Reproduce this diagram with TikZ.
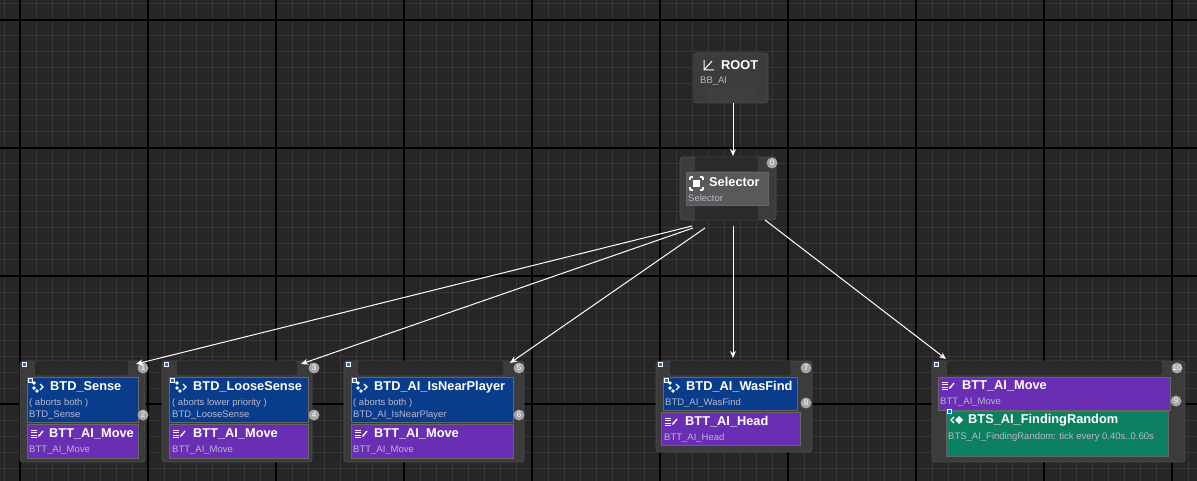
\documentclass[tikz,border=0pt]{standalone}
\usepackage{fontspec}
\setmainfont{Liberation Sans}
\usetikzlibrary{arrows.meta,calc}
\definecolor{bg}{HTML}{262626}
\definecolor{minor}{HTML}{363636}
\definecolor{outer}{HTML}{3C3C3C}
\definecolor{bar}{HTML}{2A2A2A}
\definecolor{dec}{HTML}{0A3C8C}
\definecolor{task}{HTML}{6A2EB4}
\definecolor{serv}{HTML}{0E8062}
\definecolor{sub}{HTML}{B8B8C8}
\begin{document}
\begin{tikzpicture}[x=1pt,y=-1pt,
  outerbox/.style={fill=outer,draw=black!70,line width=0.8pt,rounded corners=3pt},
  topbar/.style={fill=bar,rounded corners=2pt},
  decbox/.style={fill=dec,draw=black!60,line width=0.6pt},
  taskbox/.style={fill=task,draw=black!60,line width=0.6pt},
  servbox/.style={fill=serv,draw=black!60,line width=0.6pt},
  ttl/.style={anchor=west,text=white,font=\bfseries\fontsize{12.8}{13}\selectfont,inner sep=0pt},
  sbt/.style={anchor=west,text=sub,font=\fontsize{9.5}{10}\selectfont,inner sep=0pt},
  badge/.style={circle,fill=gray!70,text=white,inner sep=0pt,minimum size=11pt,font=\fontsize{8}{8}\selectfont},
  blue sq/.style={fill=blue!55!cyan,draw=white!70,line width=0.3pt},
  conn/.style={draw=white,line width=1pt,-{Stealth[length=7pt,width=6pt]}}]
\useasboundingbox (0,0) rectangle (1197,481);
\fill[bg] (0,0) rectangle (1197,481);
\foreach \x in {4,20,...,1197} \draw[minor,line width=1pt] (\x,0) -- (\x,481);
\foreach \y in {4,20,...,481} \draw[minor,line width=1pt] (0,\y) -- (1197,\y);
\foreach \x in {20,148,...,1197} \draw[black,line width=1.6pt] (\x,0) -- (\x,481);
\foreach \y in {20,148,276,404} \draw[black,line width=1.6pt] (0,\y) -- (1197,\y);
\newcommand{\decicon}[2]{\fill[white] (#1+3,#2-4) circle (1.8pt) (#1+3,#2+1) circle (1.8pt) (#1+6,#2+4) circle (1.8pt); \draw[white,line width=1.3pt] (#1+9,#2-3) -- (#1+12,#2) -- (#1+9,#2+3);}
\newcommand{\taskicon}[2]{\foreach \k in {-4,-1.5,1,3.5} \draw[white,line width=1pt] (#1,#2+\k) -- (#1+6,#2+\k); \draw[white,line width=1.3pt,-{Stealth[length=3pt]}] (#1+12,#2-3) -- (#1+7,#2+3);}
% ROOT
\draw[outerbox] (694,53) rectangle (768,103);
\fill[bar!90!white,rounded corners=2pt] (706,88) rectangle (754,102);
\node[ttl] (rootT) at (721,65) {ROOT};
\draw[white,line width=1pt] (704,60) -- (704,70) -- (714,70) (704,70) -- (712,61);
\node[sbt] (rootS) at (700,81) {BB\_AI};
\coordinate (rootB) at (733,103);
% Selector
\draw[outerbox] (680,157) rectangle (776,220);
\fill[topbar] (695,157) rectangle (758,171);
\fill[topbar] (695,206) rectangle (758,220);
\draw[fill=outer!85,draw=black!60] (686,172) rectangle (768,205);
\draw[white,line width=1.2pt] (690,177) -- (690,180) (690,177) -- (693,177) (703,177) -- (700,177) (703,177) -- (703,180) (690,190) -- (690,187) (690,190) -- (693,190) (703,190) -- (700,190) (703,190) -- (703,187);
\fill[white] (693,180) rectangle (700,187);
\node[ttl] (selT) at (709,182) {Selector};
\node[sbt] (selS) at (688,198) {Selector};
\node[badge] (b0) at (772,163) {0};
\coordinate (selTop) at (733,156);
\draw[conn] (rootB) -- (selTop);
% Node 1
\draw[outerbox] (20,361) rectangle (145,462);
\fill[topbar] (35,361) rectangle (128,375);
\draw[blue sq] (22,362) rectangle (26,366);
\draw[decbox] (27,377) rectangle (138,422);
\draw[blue sq] (28,378) rectangle (32,382);
\decicon{31}{387}
\node[ttl] (d1) at (50,387) {BTD\_Sense};
\node[sbt] (d1a) at (29,403) {( aborts both )};
\node[sbt] (d1b) at (29,415) {BTD\_Sense};
\draw[taskbox] (27,424) rectangle (138,458);
\taskicon{31}{434}
\node[ttl] (t1) at (49,434) {BTT\_AI\_Move};
\node[sbt] (t1b) at (29,450) {BTT\_AI\_Move};
\node[badge] (b1) at (143,368) {1};
\node[badge] (b2) at (143,415) {2};
\coordinate (n1) at (136,364);
% Node 2
\draw[outerbox] (162,361) rectangle (312,462);
\fill[topbar] (177,361) rectangle (297,375);
\draw[blue sq] (164,362) rectangle (168,366);
\draw[decbox] (169,377) rectangle (308,422);
\draw[blue sq] (170,378) rectangle (174,382);
\decicon{174}{387}
\node[ttl] (d2) at (193,387) {BTD\_LooseSense};
\node[sbt] (d2a) at (172,403) {( aborts lower priority )};
\node[sbt] (d2b) at (172,415) {BTD\_LooseSense};
\draw[taskbox] (169,424) rectangle (308,458);
\taskicon{173}{434}
\node[ttl] (t2) at (193,434) {BTT\_AI\_Move};
\node[sbt] (t2b) at (172,450) {BTT\_AI\_Move};
\node[badge] (b3) at (314,368) {3};
\node[badge] (b4) at (314,415) {4};
\coordinate (n2) at (301,364);
% Node 3
\draw[outerbox] (344,361) rectangle (524,462);
\fill[topbar] (358,361) rectangle (503,375);
\draw[blue sq] (346,362) rectangle (350,366);
\draw[decbox] (351,377) rectangle (513,422);
\draw[blue sq] (352,378) rectangle (356,382);
\decicon{355}{387}
\node[ttl] (d3) at (374,387) {BTD\_AI\_IsNearPlayer};
\node[sbt] (d3a) at (353,403) {( aborts both )};
\node[sbt] (d3b) at (353,415) {BTD\_AI\_IsNearPlayer};
\draw[taskbox] (351,424) rectangle (513,458);
\taskicon{355}{434}
\node[ttl] (t3) at (374,434) {BTT\_AI\_Move};
\node[sbt] (t3b) at (353,450) {BTT\_AI\_Move};
\node[badge] (b5) at (519,368) {5};
\node[badge] (b6) at (519,415) {6};
\coordinate (n3) at (510,363);
% Node 4
\draw[outerbox] (656,361) rectangle (812,452);
\fill[topbar] (670,361) rectangle (790,375);
\draw[blue sq] (658,362) rectangle (662,366);
\draw[decbox] (663,377) rectangle (797,410);
\draw[blue sq] (664,378) rectangle (668,382);
\decicon{667}{387}
\node[ttl] (d4) at (686,387) {BTD\_AI\_WasFind};
\node[sbt] (d4b) at (665,403) {BTD\_AI\_WasFind};
\draw[taskbox] (661,412) rectangle (800,445);
\taskicon{665}{422}
\node[ttl] (t4) at (685,422) {BTT\_AI\_Head};
\node[sbt] (t4b) at (664,438) {BTT\_AI\_Head};
\node[badge] (b7) at (806,368) {7};
\node[badge] (b8) at (806,403) {8};
\coordinate (n4) at (733,358);
% Node 5
\draw[outerbox] (932,361) rectangle (1185,462);
\fill[topbar] (947,361) rectangle (1162,375);
\draw[blue sq] (934,362) rectangle (938,366);
\draw[taskbox] (938,377) rectangle (1170,410);
\taskicon{942}{386}
\node[ttl] (t5) at (962,386) {BTT\_AI\_Move};
\node[sbt] (t5b) at (940,402) {BTT\_AI\_Move};
\draw[servbox] (946,411) rectangle (1168,456);
\draw[blue sq] (947,409) rectangle (951,413);
\draw[white,line width=1.3pt] (954,417) -- (951,420) -- (954,423);
\fill[white] (959,416) -- (963,420) -- (959,424) -- (955,420) -- cycle;
\node[ttl] (s5) at (968,420) {BTS\_AI\_FindingRandom};
\node[sbt] (s5b) at (948,437) {BTS\_AI\_FindingRandom: tick every 0.40s..0.60s};
\node[badge] (b10) at (1177,368) {10};
\node[badge] (b9) at (1176,401) {9};
\coordinate (n5) at (946,359);
% connectors
\coordinate (s1) at (692,226);
\coordinate (s2) at (693,228);
\coordinate (s3) at (705,228);
\coordinate (s4) at (733,226);
\coordinate (s5c) at (765,220);
\draw[conn] (s1) -- (n1);
\draw[conn] (s2) -- (n2);
\draw[conn] (s3) -- (n3);
\draw[conn] (s4) -- (n4);
\draw[conn] (s5c) -- (n5);
\end{tikzpicture}
\end{document}
